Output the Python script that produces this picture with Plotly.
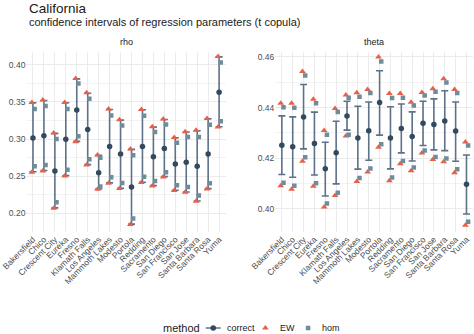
import plotly.graph_objects as go

cities = ["Bakersfield", "Chico", "Crescent City", "Eureka", "Fresno", "Klamath Falls",
          "Los Angeles", "Mammoth Lakes", "Modesto", "Portola", "Redding", "Sacramento",
          "San Diego", "San Francisco", "San Jose", "Santa Barbara", "Santa Rosa", "Yuma"]

# rho panel
rho_est = [0.3013, 0.3045, 0.2570, 0.2996, 0.3390, 0.3130, 0.2547, 0.2901, 0.2798, 0.2354,
           0.2901, 0.2762, 0.2874, 0.2664, 0.2686, 0.2632, 0.2798, 0.3632]
rho_lo = [0.2560, 0.2575, 0.2072, 0.2507, 0.2968, 0.2655, 0.2327, 0.2409, 0.2337, 0.1853,
          0.2418, 0.2372, 0.2493, 0.2309, 0.2287, 0.2165, 0.2331, 0.3165]
rho_hi = [0.3488, 0.3520, 0.3076, 0.3488, 0.3811, 0.3618, 0.2780, 0.3399, 0.3255, 0.2860,
          0.3394, 0.3161, 0.3264, 0.3017, 0.3094, 0.3112, 0.3273, 0.4107]
rho_ew_lo = [0.2552, 0.2570, 0.2067, 0.2502, 0.2964, 0.2650, 0.2323, 0.2404, 0.2332, 0.1848,
             0.2413, 0.2368, 0.2489, 0.2305, 0.2283, 0.2161, 0.2327, 0.3161]
rho_ew_hi = [0.3493, 0.3525, 0.3081, 0.3493, 0.3816, 0.3623, 0.2785, 0.3404, 0.3260, 0.2865,
             0.3399, 0.3166, 0.3269, 0.3022, 0.3099, 0.3117, 0.3278, 0.4112]
rho_hom_lo = [0.2632, 0.2650, 0.2148, 0.2587, 0.3036, 0.2726, 0.2359, 0.2484, 0.2408, 0.1928,
              0.2493, 0.2435, 0.2552, 0.2377, 0.2354, 0.2238, 0.2404, 0.3238]
rho_hom_hi = [0.3404, 0.3444, 0.3000, 0.3404, 0.3749, 0.3543, 0.2749, 0.3318, 0.3184, 0.2780,
              0.3314, 0.3094, 0.3197, 0.2951, 0.3027, 0.3027, 0.3193, 0.4031]

# theta panel
th_est = [0.4251, 0.4245, 0.4363, 0.4258, 0.4158, 0.4222, 0.4367, 0.4280, 0.4308, 0.4420,
          0.4280, 0.4317, 0.4286, 0.4338, 0.4333, 0.4347, 0.4307, 0.4097]
th_lo = [0.4136, 0.4125, 0.4237, 0.4134, 0.4051, 0.4099, 0.4311, 0.4157, 0.4192, 0.4291,
         0.4158, 0.4221, 0.4189, 0.4250, 0.4233, 0.4230, 0.4188, 0.3980]
th_hi = [0.4367, 0.4363, 0.4491, 0.4382, 0.4263, 0.4346, 0.4425, 0.4405, 0.4422, 0.4545,
         0.4403, 0.4414, 0.4383, 0.4425, 0.4434, 0.4466, 0.4422, 0.4213]
th_ew_lo = [0.4091, 0.4078, 0.4188, 0.4089, 0.4008, 0.4053, 0.4288, 0.4108, 0.4146, 0.4243,
            0.4111, 0.4178, 0.4151, 0.4221, 0.4195, 0.4186, 0.4143, 0.3936]
th_ew_hi = [0.4417, 0.4417, 0.4542, 0.4433, 0.4309, 0.4396, 0.4449, 0.4458, 0.4471, 0.4599,
            0.4455, 0.4455, 0.4421, 0.4459, 0.4474, 0.4513, 0.4471, 0.4264]
th_hom_lo = [0.4103, 0.4091, 0.4204, 0.4101, 0.4021, 0.4064, 0.4293, 0.4122, 0.4159, 0.4255,
             0.4124, 0.4189, 0.4163, 0.4230, 0.4205, 0.4199, 0.4157, 0.3949]
th_hom_hi = [0.4401, 0.4399, 0.4526, 0.4417, 0.4293, 0.4382, 0.4439, 0.4442, 0.4457, 0.4582,
             0.4438, 0.4439, 0.4408, 0.4447, 0.4462, 0.4499, 0.4457, 0.4250]

methods = ["correct", "EW", "hom"]
legend_title = "method"

C_EST = "#34495E"
C_BAR = "#5D7188"
C_EW = "#E8604A"
C_HOM = "#6F8C9B"
FONT = "Liberation Sans"

W, H = 474, 334
ML, MR, MT = 23, 1, 52
PANEL_BOTTOM = 232  # page y of panel bottom
PW = W - ML - MR
PH = H - MT


def px_x(xp):
    return (xp - ML) / PW


def px_y(yp):
    return (H - yp) / PH


idx = list(range(len(cities)))
dodge_ew = -0.1
dodge_hom = 0.15

fig = go.Figure()

panels = [
    ("x", "y", rho_est, rho_lo, rho_hi, rho_ew_lo, rho_ew_hi, rho_hom_lo, rho_hom_hi),
    ("x2", "y2", th_est, th_lo, th_hi, th_ew_lo, th_ew_hi, th_hom_lo, th_hom_hi),
]

for (xa, ya, est, lo, hi, ewlo, ewhi, hlo, hhi) in panels:
    fig.add_trace(go.Scatter(
        x=idx, y=est, mode="markers", xaxis=xa, yaxis=ya,
        marker=dict(color=C_EST, size=5.5),
        error_y=dict(type="data", symmetric=False,
                     array=[h - e for h, e in zip(hi, est)],
                     arrayminus=[e - l for e, l in zip(est, lo)],
                     color=C_BAR, thickness=1.6, width=3.5),
        showlegend=False, hoverinfo="skip"))
    for ys in (ewlo, ewhi):
        fig.add_trace(go.Scatter(
            x=[i + dodge_ew for i in idx], y=ys, mode="markers", xaxis=xa, yaxis=ya,
            marker=dict(color=C_EW, size=6, symbol="triangle-up"),
            showlegend=False, hoverinfo="skip"))
    for ys in (hlo, hhi):
        fig.add_trace(go.Scatter(
            x=[i + dodge_hom for i in idx], y=ys, mode="markers", xaxis=xa, yaxis=ya,
            marker=dict(color=C_HOM, size=4.5, symbol="square"),
            showlegend=False, hoverinfo="skip"))

# ---- manual legend (keys drawn on a pixel-scaled helper axis) ----
LEG_Y = H - 328  # helper axis: y in px from page bottom
fig.add_trace(go.Scatter(x=[204, 219], y=[LEG_Y, LEG_Y], mode="lines", xaxis="x3", yaxis="y3",
                         line=dict(color=C_BAR, width=1.6), showlegend=False, hoverinfo="skip",
                         cliponaxis=False))
fig.add_trace(go.Scatter(x=[211.5], y=[LEG_Y], mode="markers", xaxis="x3", yaxis="y3",
                         marker=dict(color=C_EST, size=5.5), showlegend=False,
                         hoverinfo="skip", cliponaxis=False))
fig.add_trace(go.Scatter(x=[264], y=[LEG_Y], mode="markers", xaxis="x3", yaxis="y3",
                         marker=dict(color=C_EW, size=6, symbol="triangle-up"),
                         showlegend=False, hoverinfo="skip", cliponaxis=False))
fig.add_trace(go.Scatter(x=[307], y=[LEG_Y], mode="markers", xaxis="x3", yaxis="y3",
                         marker=dict(color=C_HOM, size=4.5, symbol="square"),
                         showlegend=False, hoverinfo="skip", cliponaxis=False))

grid = "#EBEBEB"
xcommon = dict(range=[-0.6, len(cities) - 0.4], tickmode="array", tickvals=idx,
               ticktext=cities, tickangle=-45, showgrid=True, gridcolor=grid,
               gridwidth=1, zeroline=False, showline=False, ticks="",
               tickfont=dict(family=FONT, size=8.5, color="#4D4D4D"))
ycommon = dict(showgrid=True, gridcolor=grid, gridwidth=1, zeroline=False,
               showline=False, ticks="",
               tickfont=dict(family=FONT, size=8.5, color="#4D4D4D"))

ydom = [px_y(PANEL_BOTTOM), 1.0]

annotations = [
    dict(text="California", xref="paper", yref="paper", x=px_x(24), y=px_y(8),
         xanchor="left", yanchor="middle", showarrow=False,
         font=dict(family=FONT, size=13.5, color="#1A1A1A")),
    dict(text="confidence intervals of regression parameters (t copula)",
         xref="paper", yref="paper", x=px_x(24), y=px_y(22.5), xanchor="left",
         yanchor="middle", showarrow=False,
         font=dict(family=FONT, size=11, color="#1A1A1A")),
    dict(text="rho", xref="paper", yref="paper", x=px_x((23.4 + 224) / 2), y=px_y(42),
         xanchor="center", yanchor="middle", showarrow=False,
         font=dict(family=FONT, size=9, color="#1A1A1A")),
    dict(text="theta", xref="paper", yref="paper", x=px_x((274 + 473.6) / 2), y=px_y(42),
         xanchor="center", yanchor="middle", showarrow=False,
         font=dict(family=FONT, size=9, color="#1A1A1A")),
    dict(text=legend_title, xref="x3", yref="y3", x=159, y=LEG_Y, xanchor="left",
         yanchor="middle", showarrow=False,
         font=dict(family=FONT, size=11, color="#1A1A1A")),
]
for name, xp in zip(methods, [223, 277, 319]):
    annotations.append(dict(text=name, xref="x3", yref="y3", x=xp, y=LEG_Y,
                            xanchor="left", yanchor="middle", showarrow=False,
                            font=dict(family=FONT, size=9, color="#1A1A1A")))

fig.update_layout(
    width=W, height=H,
    margin=dict(l=ML, r=MR, t=MT, b=0),
    paper_bgcolor="white", plot_bgcolor="white",
    font=dict(family=FONT, color="#1A1A1A"),
    showlegend=False,
    xaxis=dict(domain=[px_x(23.4), px_x(224)], anchor="y", **xcommon),
    xaxis2=dict(domain=[px_x(274), 1.0], anchor="y2", **xcommon),
    yaxis=dict(domain=ydom, anchor="x", range=[0.1747, 0.4173],
               tickvals=[0.20, 0.25, 0.30, 0.35, 0.40],
               ticktext=["0.20", "0.25", "0.30", "0.35", "0.40"],
               minor=dict(tickvals=[0.175, 0.225, 0.275, 0.325, 0.375], showgrid=True,
                          gridcolor="#F3F3F3", gridwidth=0.6),
               **ycommon),
    yaxis2=dict(domain=ydom, anchor="x2", range=[0.3909, 0.4619],
                tickvals=[0.40, 0.42, 0.44, 0.46],
                ticktext=["0.40", "0.42", "0.44", "0.46"],
                minor=dict(tickvals=[0.41, 0.43, 0.45], showgrid=True,
                           gridcolor="#F3F3F3", gridwidth=0.6),
                **ycommon),
    xaxis3=dict(domain=[0, 1], range=[ML, W - MR], visible=False, anchor="y3",
                fixedrange=True),
    yaxis3=dict(domain=[0, px_y(PANEL_BOTTOM) - 0.001], range=[0, H - PANEL_BOTTOM],
                visible=False, anchor="x3", fixedrange=True),
    annotations=annotations,
)

fig.write_html("out.html")
